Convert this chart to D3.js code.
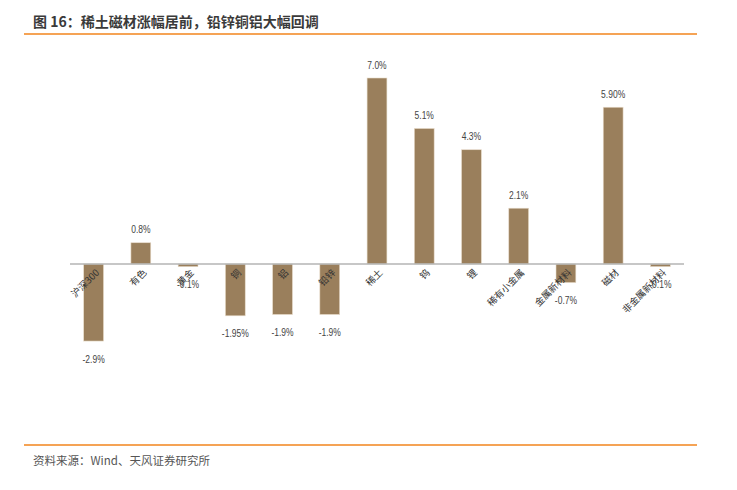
<!DOCTYPE html>
<html>
<head>
<meta charset="utf-8">
<script src="https://cdn.jsdelivr.net/npm/d3@7"></script>
<style>
  body { margin: 0; background: #fff; }
  svg { display: block; font-family: "Liberation Sans", "Noto Sans CJK SC", sans-serif; }
</style>
</head>
<body>
<div id="chart"></div>
<script>
// Chart data
var categories = ["沪深300", "有色", "黄金", "铜", "铝", "铅锌", "稀土", "钨", "锂", "稀有小金属", "金属新材料", "磁材", "非金属新材料"];
var values = [-2.9, 0.8, -0.1, -1.95, -1.9, -1.9, 7.0, 5.1, 4.3, 2.1, -0.7, 5.9, -0.1];
var valueLabels = ["-2.9%", "0.8%", "-0.1%", "-1.95%", "-1.9%", "-1.9%", "7.0%", "5.1%", "4.3%", "2.1%", "-0.7%", "5.90%", "-0.1%"];

var width = 737, height = 490;

var svg = d3.select('#chart')
    .append('svg')
    .attr('width', width)
    .attr('height', height);

// Title and rules
svg.append('text')
    .attr('x', 33)
    .attr('y', 27)
    .style('font-family', '"Noto Sans CJK SC", sans-serif')
    .style('font-size', '14px')
    .style('font-weight', 'bold')
    .style('fill', '#3a3a3a')
    .text('图 16：稀土磁材涨幅居前，铅锌铜铝大幅回调');

svg.append('line')
    .attr('x1', 24).attr('x2', 697)
    .attr('y1', 34).attr('y2', 34)
    .style('stroke', '#f5a355')
    .style('stroke-width', 2);

svg.append('line')
    .attr('x1', 24).attr('x2', 697)
    .attr('y1', 445).attr('y2', 445)
    .style('stroke', '#f5a355')
    .style('stroke-width', 2);

svg.append('text')
    .attr('x', 33)
    .attr('y', 465)
    .style('font-family', '"Noto Sans CJK SC", sans-serif')
    .style('font-size', '11.5px')
    .style('fill', '#555')
    .text('资料来源：Wind、天风证券研究所');

// Scales
var x = d3.scaleBand()
    .domain(categories)
    .range([70, 684])
    .paddingInner(0.58)
    .paddingOuter(0.29);

var y = d3.scaleLinear()
    .domain([0, 7])
    .range([264, 78]);

var data = categories.map(function(c, i) {
    return { category: c, value: values[i], label: valueLabels[i] };
});

// Bars
svg.selectAll('.bar')
    .data(data)
    .enter().append('rect')
    .attr('class', 'bar')
    .attr('x', function(d) { return x(d.category); })
    .attr('width', x.bandwidth())
    .attr('y', function(d) { return Math.min(y(d.value), y(0)); })
    .attr('height', function(d) { return Math.abs(y(d.value) - y(0)); })
    .style('fill', '#9a7f5c')
    .style('stroke', '#e8dccb')
    .style('stroke-width', 0.6);

// Zero axis
svg.append('line')
    .attr('x1', 70).attr('x2', 684)
    .attr('y1', y(0)).attr('y2', y(0))
    .style('stroke', '#b5b5b5')
    .style('stroke-width', 1.5);

// Category labels
svg.selectAll('.cat')
    .data(data)
    .enter().append('text')
    .attr('class', 'cat')
    .attr('transform', function(d) {
        var cx = x(d.category) + x.bandwidth() / 2 + 4;
        return 'translate(' + cx + ',' + (y(0) + 7) + ') rotate(-45)';
    })
    .attr('text-anchor', 'end')
    .attr('dy', '0.35em')
    .style('font-family', '"Noto Sans CJK SC", sans-serif')
    .style('font-size', '9.5px')
    .style('fill', '#333')
    .text(function(d) { return d.category; });

// Value labels (narrow look)
svg.selectAll('.val')
    .data(data)
    .enter().append('text')
    .attr('class', 'val')
    .attr('transform', function(d) {
        var cx = x(d.category) + x.bandwidth() / 2;
        var cy = d.value >= 0 ? y(d.value) - 13 : y(d.value) + 18;
        return 'translate(' + cx + ',' + cy + ') scale(0.85,1)';
    })
    .attr('dy', '0.35em')
    .attr('text-anchor', 'middle')
    .style('font-family', '"Liberation Sans", sans-serif')
    .style('font-size', '10px')
    .style('fill', '#444')
    .text(function(d) { return d.label; });
</script>
</body>
</html>
